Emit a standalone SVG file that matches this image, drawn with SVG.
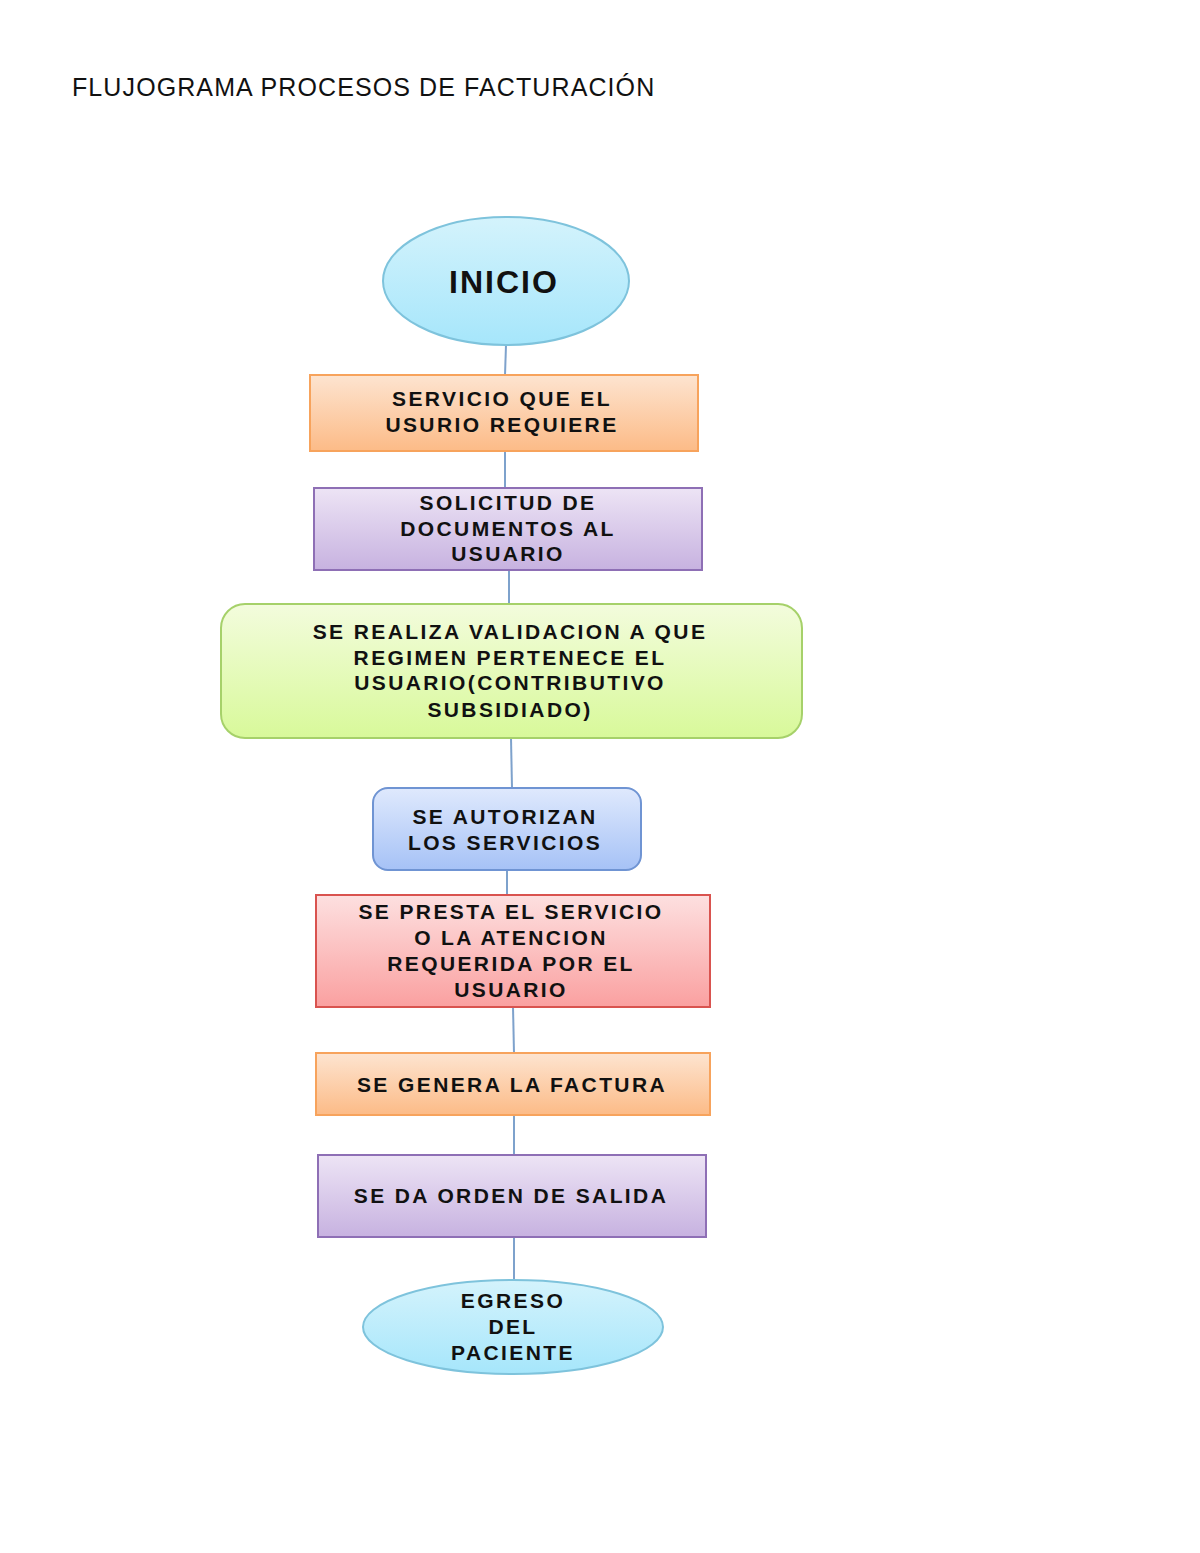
<svg xmlns="http://www.w3.org/2000/svg" width="1200" height="1553" viewBox="0 0 1200 1553" xml:space="preserve">
<defs>
<linearGradient id="gBlueE" x1="0" y1="0" x2="0" y2="1"><stop offset="0" stop-color="#d4f3fc"/><stop offset="1" stop-color="#a6e6fb"/></linearGradient>
<linearGradient id="gOr" x1="0" y1="0" x2="0" y2="1"><stop offset="0" stop-color="#fde4d0"/><stop offset="1" stop-color="#fcbb87"/></linearGradient>
<linearGradient id="gPu" x1="0" y1="0" x2="0" y2="1"><stop offset="0" stop-color="#ede4f5"/><stop offset="1" stop-color="#c7b2e0"/></linearGradient>
<linearGradient id="gGr" x1="0" y1="0" x2="0" y2="1"><stop offset="0" stop-color="#f3fcdd"/><stop offset="1" stop-color="#d8f99a"/></linearGradient>
<linearGradient id="gBl" x1="0" y1="0" x2="0" y2="1"><stop offset="0" stop-color="#dfe9fd"/><stop offset="1" stop-color="#a6c2f6"/></linearGradient>
<linearGradient id="gRe" x1="0" y1="0" x2="0" y2="1"><stop offset="0" stop-color="#fde0e0"/><stop offset="1" stop-color="#faa0a0"/></linearGradient>
</defs>
<style>
.t{font-family:"Liberation Sans",Arial,sans-serif;font-weight:bold;font-size:21px;fill:#111;text-anchor:middle;letter-spacing:2.4px}
.c{stroke:#7ea2cc;stroke-width:2;fill:none}
</style>
<rect width="1200" height="1553" fill="#fff"/>
<text x="72" y="96" style="font-family:'Liberation Sans',Arial,sans-serif;font-size:25px;letter-spacing:1.1px" fill="#111">FLUJOGRAMA PROCESOS  DE  FACTURACIÓN</text>
<g id="connectors">
<line class="c" x1="506" y1="345" x2="505" y2="375"/>
<line class="c" x1="505" y1="451" x2="505" y2="488"/>
<line class="c" x1="509" y1="570" x2="509" y2="604"/>
<line class="c" x1="511" y1="738" x2="512" y2="788"/>
<line class="c" x1="507" y1="870" x2="507" y2="895"/>
<line class="c" x1="513" y1="1007" x2="514" y2="1053"/>
<line class="c" x1="514" y1="1115" x2="514" y2="1155"/>
<line class="c" x1="514" y1="1237" x2="514" y2="1280"/>
</g>
<g id="inicio"><ellipse cx="506" cy="281" rx="123" ry="64" fill="url(#gBlueE)" stroke="#7ec3dc" stroke-width="2"/><text class="t" x="504" y="293" style="font-size:32px;letter-spacing:2px">INICIO</text></g>
<g id="n1"><rect x="310" y="375" width="388" height="76" fill="url(#gOr)" stroke="#f7a35c" stroke-width="2"/><text class="t" x="502" y="406">SERVICIO QUE EL</text><text class="t" x="502" y="432">USURIO REQUIERE</text></g>
<g id="n2"><rect x="314" y="488" width="388" height="82" fill="url(#gPu)" stroke="#8e6fb5" stroke-width="2"/><text class="t" x="508" y="510">SOLICITUD DE</text><text class="t" x="508" y="536">DOCUMENTOS AL</text><text class="t" x="508" y="561">USUARIO</text></g>
<g id="n3"><rect x="221" y="604" width="581" height="134" rx="24" fill="url(#gGr)" stroke="#a6d16a" stroke-width="2"/><text class="t" x="510" y="639">SE REALIZA  VALIDACION  A QUE</text><text class="t" x="510" y="665">REGIMEN  PERTENECE EL</text><text class="t" x="510" y="690">USUARIO(CONTRIBUTIVO</text><text class="t" x="510" y="717">SUBSIDIADO)</text></g>
<g id="n4"><rect x="373" y="788" width="268" height="82" rx="15" fill="url(#gBl)" stroke="#6f94d3" stroke-width="2"/><text class="t" x="505" y="824">SE AUTORIZAN</text><text class="t" x="505" y="850">LOS SERVICIOS</text></g>
<g id="n5"><rect x="316" y="895" width="394" height="112" fill="url(#gRe)" stroke="#d9534f" stroke-width="2"/><text class="t" x="511" y="919">SE PRESTA  EL SERVICIO</text><text class="t" x="511" y="945">O LA ATENCION</text><text class="t" x="511" y="971">REQUERIDA  POR EL</text><text class="t" x="511" y="997">USUARIO</text></g>
<g id="n6"><rect x="316" y="1053" width="394" height="62" fill="url(#gOr)" stroke="#f7a35c" stroke-width="2"/><text class="t" x="512" y="1092">SE GENERA  LA FACTURA</text></g>
<g id="n7"><rect x="318" y="1155" width="388" height="82" fill="url(#gPu)" stroke="#8e6fb5" stroke-width="2"/><text class="t" x="511" y="1203">SE DA ORDEN  DE SALIDA</text></g>
<g id="fin"><ellipse cx="513" cy="1327" rx="150" ry="47" fill="url(#gBlueE)" stroke="#7ec3dc" stroke-width="2"/><text class="t" x="513" y="1308">EGRESO</text><text class="t" x="513" y="1334">DEL</text><text class="t" x="513" y="1360">PACIENTE</text></g>
</svg>
